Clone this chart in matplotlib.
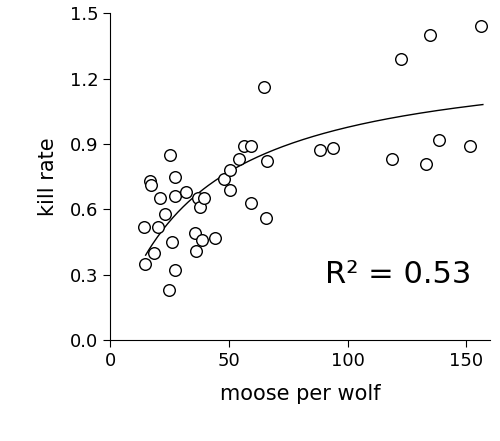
import numpy as np
import matplotlib.pyplot as plt

moose = [14.4, 14.8, 16.9, 17.4, 18.6, 20.3, 21.2, 23.3, 25.0, 25.4, 26.3, 27.5, 27.5, 27.5,
         31.8, 35.6, 36.0, 36.9, 38.1, 38.6, 39.4, 44.0, 47.9, 50.4, 50.4, 54.2, 56.4, 59.3,
         59.3, 64.8, 66.1, 65.7, 88.6, 94.0, 118.6, 122.5, 133.0, 138.6, 134.7, 151.7, 156.4]
kill = [0.52, 0.35, 0.73, 0.71, 0.40, 0.52, 0.65, 0.58, 0.23, 0.85, 0.45, 0.66, 0.75, 0.32,
        0.68, 0.49, 0.41, 0.65, 0.61, 0.46, 0.65, 0.47, 0.74, 0.69, 0.78, 0.83, 0.89, 0.89,
        0.63, 1.16, 0.82, 0.56, 0.87, 0.88, 0.83, 1.29, 0.81, 0.92, 1.40, 0.89, 1.44]

# fitted saturating curve
a, b = 1.33, 36.2
xf = np.linspace(15, 157, 200)
yf = a * xf / (b + xf)

fig = plt.figure(figsize=(5, 4.41), dpi=100)
ax = fig.add_axes([0.22, 0.229, 0.76, 0.741])
ax.scatter(moose, kill, s=70, facecolors='white', edgecolors='black', linewidths=1, zorder=3)
ax.plot(xf, yf, color='black', linewidth=1)

ax.set_xlim(0, 160)
ax.set_ylim(0, 1.5)
ax.set_xticks([0, 50, 100, 150])
ax.set_yticks([0, 0.3, 0.6, 0.9, 1.2, 1.5])
ax.set_yticklabels(['0.0', '0.3', '0.6', '0.9', '1.2', '1.5'])
ax.spines['top'].set_visible(False)
ax.spines['right'].set_visible(False)
ax.tick_params(labelsize=13, direction='out', length=5)
ax.set_xlabel('moose per wolf', fontsize=15, labelpad=10)
ax.set_ylabel('kill rate', fontsize=15, labelpad=8)
ax.text(0.95, 0.2, 'R² = 0.53', transform=ax.transAxes, fontsize=22, ha='right', va='center')

fig.savefig('out.png', dpi=100)
